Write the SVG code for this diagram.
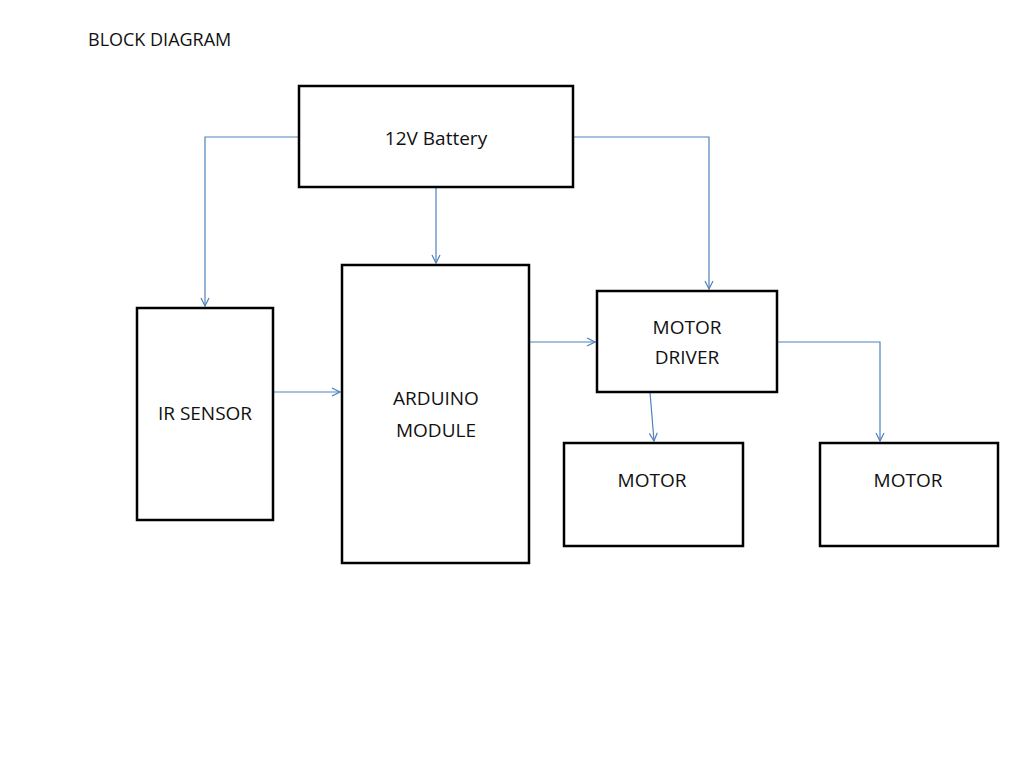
<svg xmlns="http://www.w3.org/2000/svg" width="1024" height="768" viewBox="0 0 1024 768">
<style>
.box{fill:#fff;stroke:#000;stroke-width:2.5}
.t{font-family:"Open Sans","Liberation Sans",sans-serif;font-size:19px;fill:#111;text-anchor:middle}
.c{fill:none;stroke:#4f81bd;stroke-width:1.2}
</style>
<defs><marker id="a" markerWidth="10" markerHeight="10" refX="9" refY="5" orient="auto" markerUnits="userSpaceOnUse"><path d="M1,1 L9,5 L1,9" fill="none" stroke="#4f81bd" stroke-width="1.2"/></marker></defs>
<rect width="1024" height="768" fill="#fff"/>
<text x="88" y="46" font-family="Open Sans, Liberation Sans, sans-serif" font-size="18" fill="#111">BLOCK DIAGRAM</text>
<g id="connectors">
<path class="c" d="M299,137 H205 V306" marker-end="url(#a)"/>
<path class="c" d="M573,137 H709 V289" marker-end="url(#a)"/>
<path class="c" d="M436,187 V263" marker-end="url(#a)"/>
<path class="c" d="M273,392 H340" marker-end="url(#a)"/>
<path class="c" d="M529,342 H595" marker-end="url(#a)"/>
<path class="c" d="M650,392 L654,441" marker-end="url(#a)"/>
<path class="c" d="M777,342 H880 V441" marker-end="url(#a)"/>
</g>
<g id="battery"><rect class="box" x="299" y="86" width="274" height="101"/><text class="t" x="436" y="145">12V Battery</text></g>
<g id="ir"><rect class="box" x="137" y="308" width="136" height="212"/><text class="t" x="205" y="420">IR SENSOR</text></g>
<g id="arduino"><rect class="box" x="342" y="265" width="187" height="298"/><text class="t" x="436" y="405">ARDUINO</text><text class="t" x="436" y="437">MODULE</text></g>
<g id="driver"><rect class="box" x="597" y="291" width="180" height="101"/><text class="t" x="687" y="334">MOTOR</text><text class="t" x="687" y="364">DRIVER</text></g>
<g id="motor1"><rect class="box" x="564" y="443" width="179" height="103"/><text class="t" x="652" y="487">MOTOR</text></g>
<g id="motor2"><rect class="box" x="820" y="443" width="178" height="103"/><text class="t" x="908" y="487">MOTOR</text></g>
</svg>
